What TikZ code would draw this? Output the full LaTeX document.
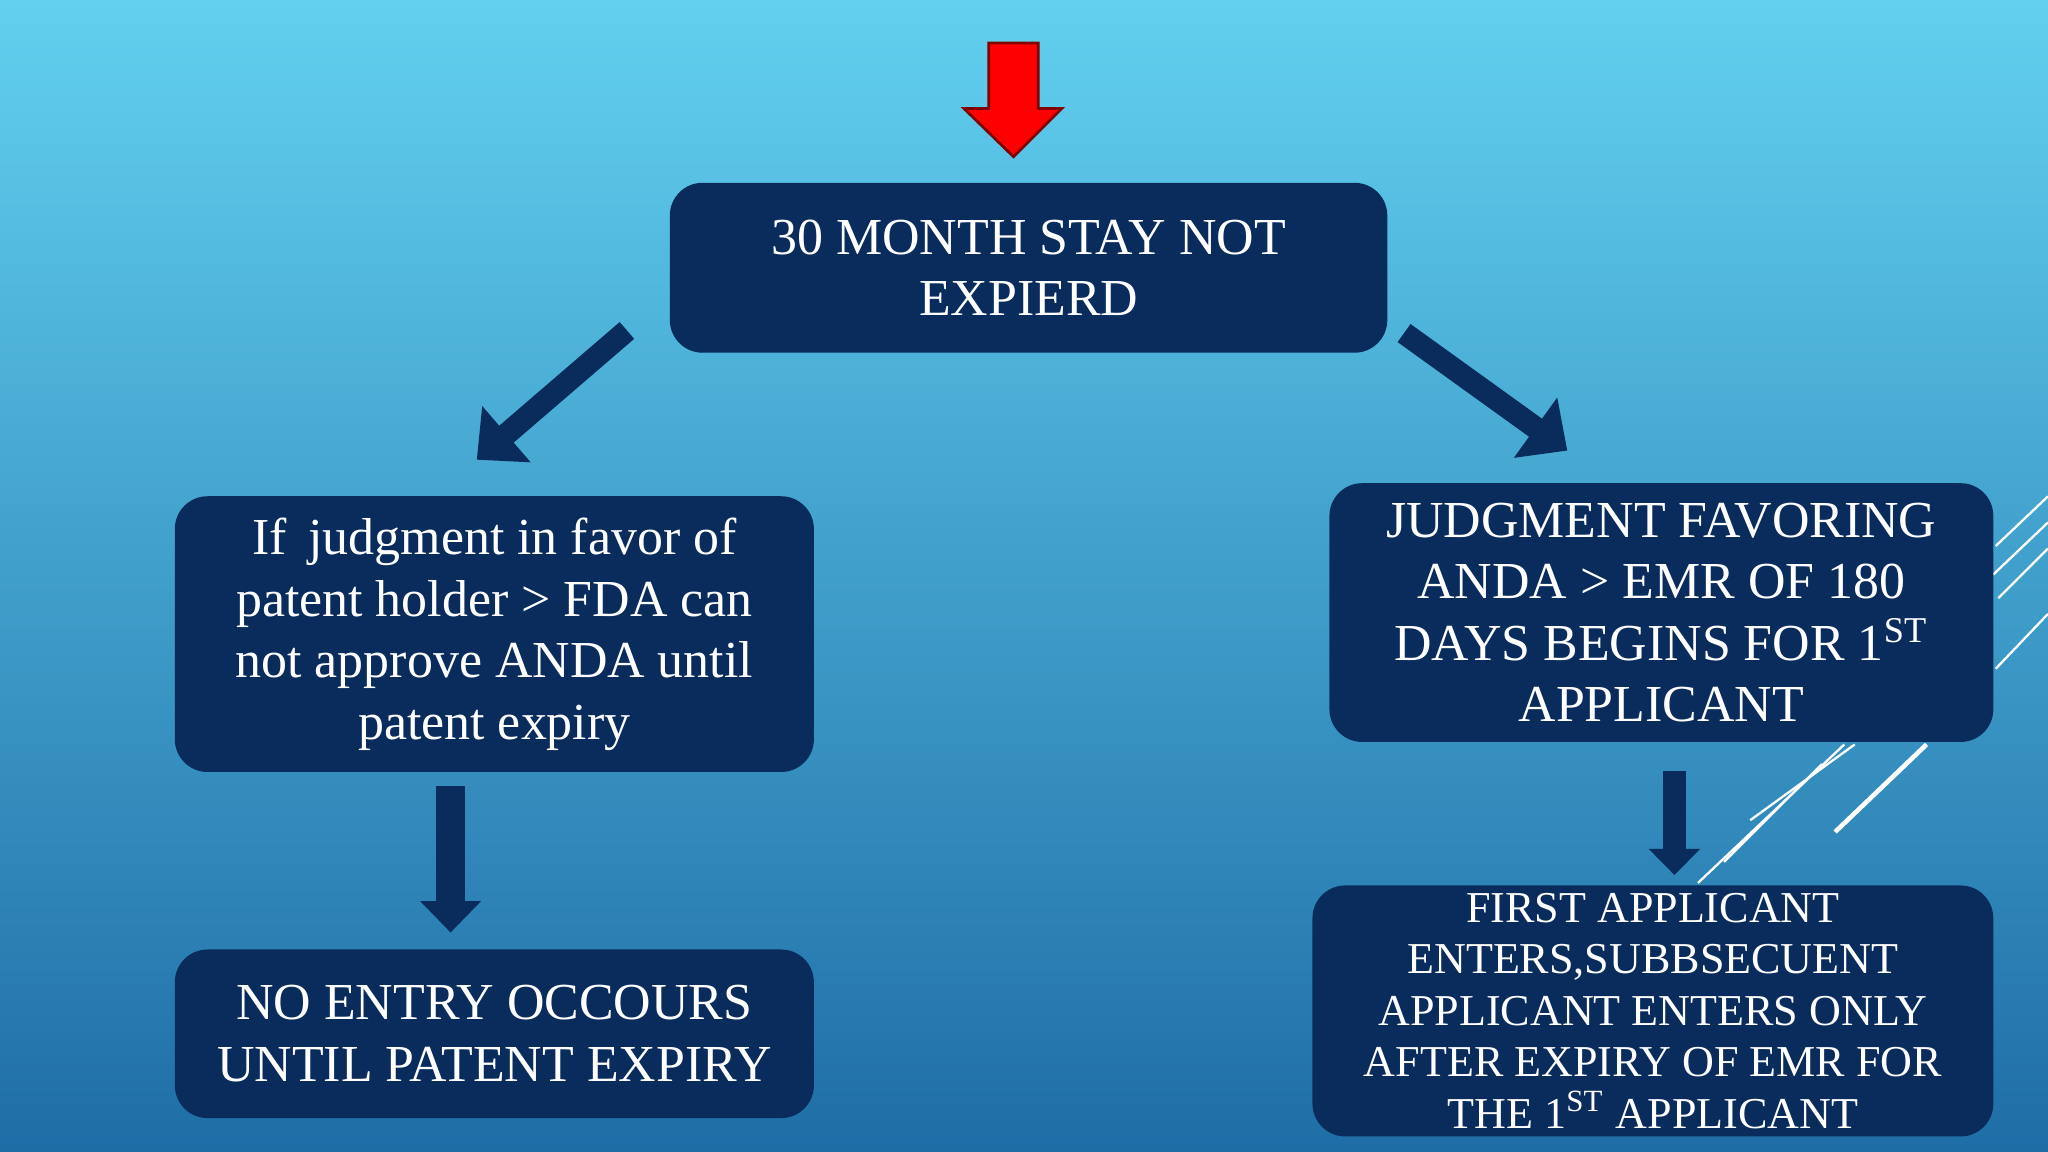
\documentclass[tikz,border=0pt]{standalone}
\usepackage{fontspec}
\setmainfont{Liberation Serif}
\usetikzlibrary{arrows.meta}
\definecolor{navy}{HTML}{0A2C5C}
\definecolor{bgtop}{HTML}{62D0EF}
\definecolor{bgbot}{HTML}{1F6DA6}
\begin{document}
\begin{tikzpicture}[x=0.01cm,y=-0.01cm,
  box/.style={fill=navy,rounded corners=0.25cm,text=white,align=center,inner sep=0pt},
  fat/.style={navy,line width=0.17cm,-{Triangle[length=0.3cm,width=0.55cm]}},
  deco/.style={white,line width=0.5pt}]
\shade[top color=bgtop,bottom color=bgbot] (0,0) rectangle (1568,882);
\useasboundingbox (0,0) rectangle (1568,882);
% decorative lines
\draw[deco] (1568,380) -- (1528,418);
\draw[deco] (1568,400) -- (1526,440);
\draw[deco] (1568,420) -- (1530,458);
\draw[deco] (1568,470) -- (1528,512);
\draw[deco] (1420,570) -- (1340,628);
\draw[deco] (1412,570) -- (1300,676);
\draw[deco,line width=1pt] (1475,570) -- (1405,637);
\draw[deco] (1395,585) -- (1320,660);
% boxes
\node[box,minimum width=5.49cm,minimum height=1.30cm,font=\fontsize{11.3}{13.4}\selectfont] (top) at (787.5,205) {30 MONTH STAY NOT\\EXPIERD};
\node[box,minimum width=4.89cm,minimum height=2.11cm,font=\fontsize{11.3}{13.4}\selectfont] (lm) at (378.5,485.5) {If\, judgment in favor of\\patent holder > FDA can\\not approve ANDA until\\patent expiry};
\node[box,minimum width=5.08cm,minimum height=1.98cm,font=\fontsize{11.3}{13.4}\selectfont] (rm) at (1272,469) {JUDGMENT FAVORING\\ANDA > EMR OF 180\\DAYS BEGINS FOR 1\textsuperscript{ST}\\APPLICANT};
\node[box,minimum width=4.89cm,minimum height=1.29cm,font=\fontsize{11.3}{13.4}\selectfont] (lb) at (378.5,791.5) {NO ENTRY OCCOURS\\UNTIL PATENT EXPIRY};
\node[box,minimum width=5.21cm,minimum height=1.92cm,font=\fontsize{9.6}{11.2}\selectfont] (rb) at (1265.5,774) {FIRST APPLICANT\\ENTERS,SUBBSECUENT\\APPLICANT ENTERS ONLY\\AFTER EXPIRY OF EMR FOR\\THE 1\textsuperscript{ST} APPLICANT};
% red arrow
\coordinate (rtip) at (776,120);
\filldraw[fill=red,draw=red!50!black,line width=0.6pt] (757,33) -- (795,33) -- (795,83) -- (813,83) -- (rtip) -- (738,83) -- (757,83) -- cycle;
% connectors
\coordinate (l1) at (480,253); \coordinate (l2) at (365,352);
\coordinate (r1) at (1075,255); \coordinate (r2) at (1200,345);
\draw[fat] (l1) -- (l2);
\draw[fat] (r1) -- (r2);
\coordinate (v1) at (345,602); \coordinate (v2) at (345,714);
\coordinate (w1) at (1282,590); \coordinate (w2) at (1282,670);
\draw[navy,line width=0.22cm,-{Triangle[length=0.24cm,width=0.45cm]}] (v1) -- (v2);
\draw[navy,line width=0.18cm,-{Triangle[length=0.2cm,width=0.38cm]}] (w1) -- (w2);
\end{tikzpicture}
\end{document}
